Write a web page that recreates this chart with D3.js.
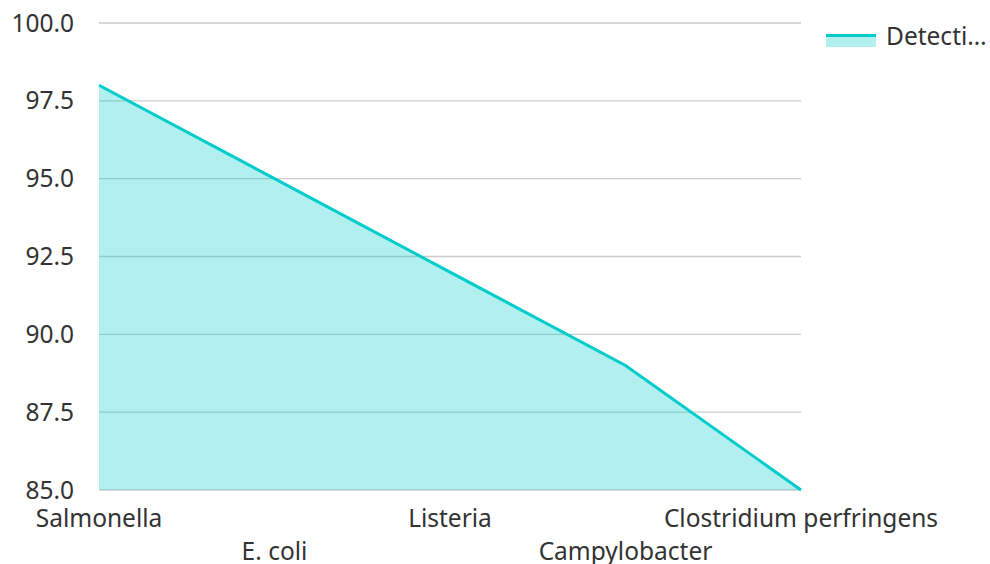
<!DOCTYPE html>
<html><head><meta charset="utf-8">
<script src="https://cdn.jsdelivr.net/npm/d3@7"></script>
<style>body{margin:0;background:#fff;font-family:"Noto Sans","Open Sans",sans-serif;}</style>
</head><body>
<svg id="c" width="990" height="564"></svg>
<script>
const categories = ["Salmonella","E. coli","Listeria","Campylobacter","Clostridium perfringens"];
const values = [98, 95, 92, 89, 85];
const yTicks = [85, 87.5, 90, 92.5, 95, 97.5, 100];
const seriesName = "Detection Rate";
const color = "#00cccc";
const fs = 24.5;

const svg = d3.select("#c");
const m = {l:99, r:801, t:23, b:490};
const x = d3.scalePoint().domain(categories).range([m.l, m.r]);
const y = d3.scaleLinear().domain([85,100]).range([m.b, m.t]);

const g = svg.append("g");
g.selectAll("line.grid").data(yTicks).join("line")
  .attr("x1", m.l).attr("x2", m.r)
  .attr("y1", d=>y(d)).attr("y2", d=>y(d))
  .attr("stroke", "#cccccc").attr("stroke-width", 1.3);

g.selectAll("text.yl").data(yTicks).join("text")
  .attr("x", 74).attr("y", d=>y(d)).attr("dy","0.35em")
  .attr("text-anchor","end").attr("font-size",fs).attr("fill","#333")
  .text(d=>d.toFixed(1));

const data = categories.map((c,i)=>({c, v:values[i]}));
g.append("path").datum(data)
  .attr("d", d3.area().x(d=>x(d.c)).y0(y(85)).y1(d=>y(d.v)))
  .attr("fill", color).attr("fill-opacity", 0.3);
g.append("path").datum(data)
  .attr("d", d3.line().x(d=>x(d.c)).y(d=>y(d.v)))
  .attr("fill","none").attr("stroke", color).attr("stroke-width", 3);

g.selectAll("text.xl").data(categories).join("text")
  .attr("x", d=>x(d)).attr("y", (d,i)=> i%2===0 ? 527 : 560)
  .attr("text-anchor","middle").attr("font-size",fs).attr("fill","#333")
  .text(d=>d);

// legend
const lg = svg.append("g");
lg.append("rect").attr("x",826).attr("y",34).attr("width",50).attr("height",13)
  .attr("fill", color).attr("fill-opacity",0.3);
lg.append("line").attr("x1",826).attr("x2",876).attr("y1",35.5).attr("y2",35.5)
  .attr("stroke", color).attr("stroke-width",3);
lg.append("text").attr("x",886).attr("y",45).attr("font-size",fs).attr("fill","#333")
  .text("Detecti…");
</script>
</body></html>
